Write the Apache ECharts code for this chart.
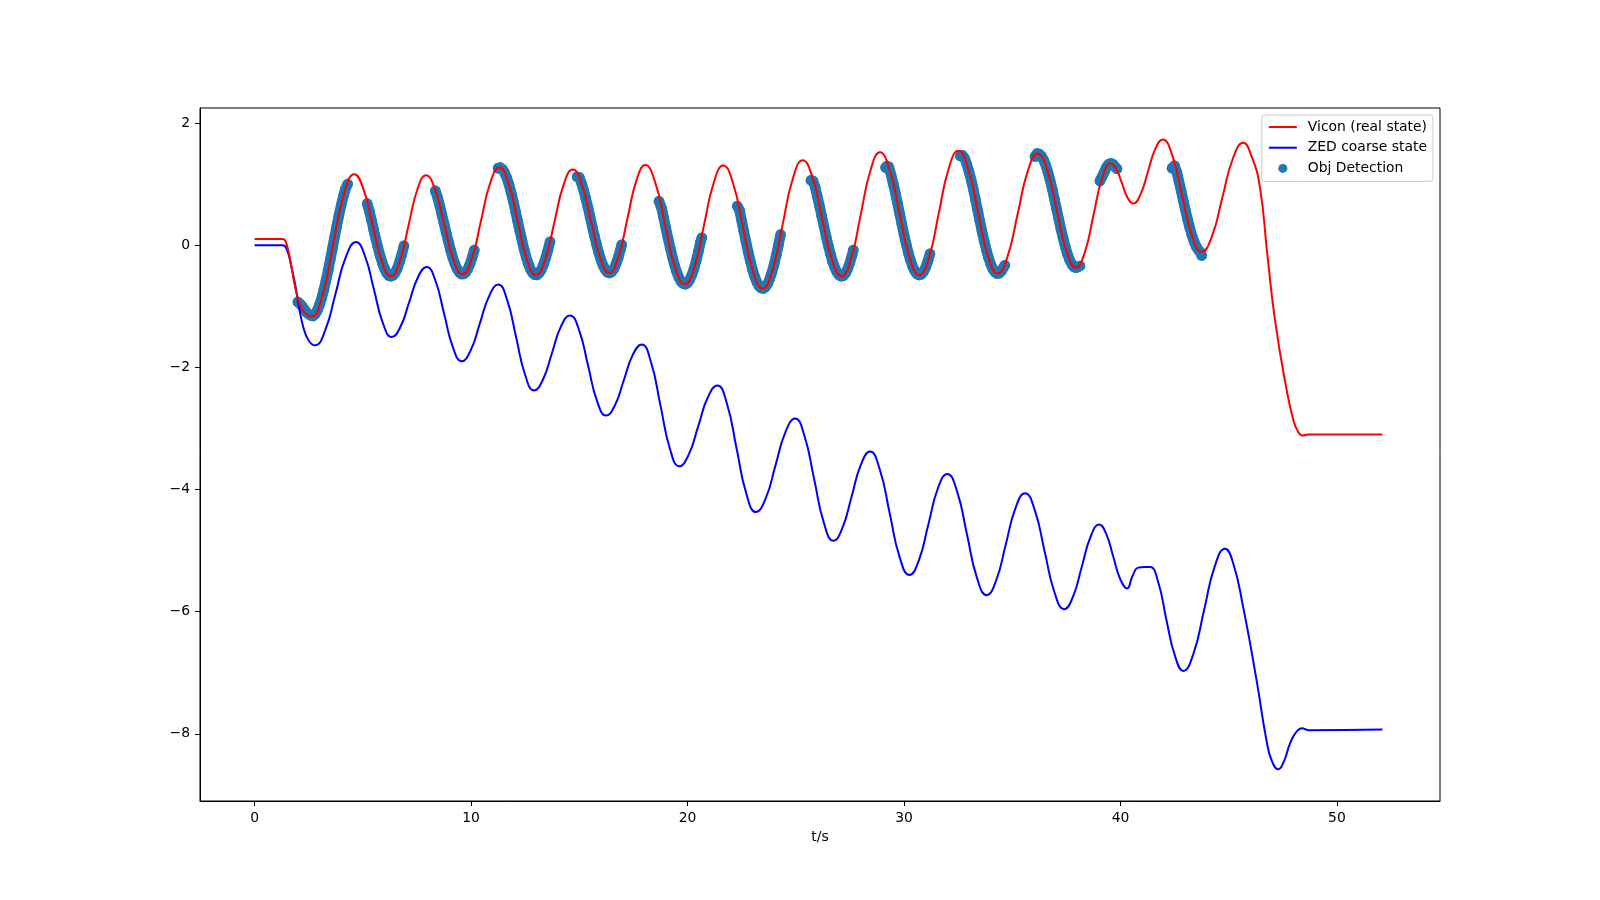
<!DOCTYPE html>
<html>
<head>
<meta charset="utf-8">
<title>Vicon vs ZED</title>
<script src="https://cdn.jsdelivr.net/npm/echarts@6/dist/echarts.min.js"></script>
<style>
  html, body { margin: 0; padding: 0; background: #fff; }
  #chart { width: 1600px; height: 900px; }
</style>
</head>
<body>
<div id="chart"></div>
<script>
// Vicon (real state)
const viconT = [
  0, 1.30, 1.45, 1.65, 1.87, 2.05, 2.30, 2.64, 3.13, 3.625, 4.12, 4.61,
  5.03, 5.455, 5.88, 6.30, 6.705, 7.11, 7.515, 7.92, 8.34, 8.765, 9.19, 9.61,
  10.035, 10.46, 10.885, 11.31, 11.73, 12.155, 12.58, 13.00, 13.425, 13.85, 14.275, 14.70,
  15.12, 15.545, 15.97, 16.39, 16.805, 17.22, 17.635, 18.05, 18.51, 18.965, 19.42, 19.88,
  20.32, 20.765, 21.21, 21.65, 22.105, 22.56, 23.015, 23.47, 23.93, 24.395, 24.86, 25.32,
  25.77, 26.22, 26.67, 27.12, 27.56, 28.005, 28.45, 28.89, 29.345, 29.80, 30.255, 30.71,
  31.16, 31.61, 32.06, 32.51, 32.965, 33.42, 33.875, 34.33, 34.79, 35.255, 35.72, 36.18,
  36.62, 37.065, 37.51, 37.95, 38.35, 38.75, 39.15, 39.55, 39.81, 40.07, 40.33, 40.59,
  40.93, 41.27, 41.61, 41.95, 42.40, 42.85, 43.30, 43.75, 44.23, 44.71, 45.19, 45.67,
  46.06, 46.44, 46.78, 47.14, 47.65, 47.99, 48.20, 48.42, 48.66, 52.10
];
const viconV = [
  0.10, 0.10, 0.05, -0.25, -0.68, -0.92, -1.10, -1.166, -0.825, -0.002, 0.821, 1.162,
  0.917, 0.326, -0.265, -0.51, -0.267, 0.318, 0.903, 1.146, 0.908, 0.335, -0.239, -0.477,
  -0.221, 0.398, 1.016, 1.272, 1.014, 0.391, -0.232, -0.49, -0.237, 0.375, 0.987, 1.24,
  0.992, 0.393, -0.207, -0.455, -0.196, 0.428, 1.051, 1.31, 1.024, 0.335, -0.354, -0.64,
  -0.355, 0.333, 1.02, 1.305, 1.01, 0.298, -0.415, -0.71, -0.402, 0.34, 1.082, 1.39,
  1.112, 0.44, -0.232, -0.51, -0.213, 0.505, 1.223, 1.52, 1.226, 0.515, -0.196, -0.49,
  -0.192, 0.528, 1.247, 1.545, 1.25, 0.54, -0.171, -0.466, -0.178, 0.517, 1.212, 1.50,
  1.226, 0.565, -0.096, -0.37, -0.12, 0.485, 1.09, 1.34, 1.243, 1.01, 0.777, 0.68,
  0.834, 1.205, 1.576, 1.73, 1.46, 0.81, 0.16, -0.11, 0.151, 0.783, 1.414, 1.675,
  1.45, 0.95, -0.14, -1.23, -2.32, -2.87, -3.05, -3.117, -3.10, -3.10
];

// ZED coarse state
const zedT = [
  0, 1.30, 1.50, 1.70, 1.87, 2.05, 2.25, 2.50, 2.79, 3.265, 3.74, 4.215, 4.69,
  5.10, 5.515, 5.93, 6.34, 6.74, 7.145, 7.55, 7.95, 8.355, 8.76, 9.165, 9.57,
  9.99, 10.415, 10.84, 11.26, 11.67, 12.085, 12.50, 12.91, 13.325, 13.74, 14.155, 14.57,
  14.99, 15.405, 15.82, 16.24, 16.65, 17.06, 17.47, 17.88, 18.315, 18.75, 19.185, 19.62,
  20.06, 20.50, 20.94, 21.38, 21.825, 22.27, 22.715, 23.16, 23.61, 24.065, 24.52, 24.97,
  25.41, 25.855, 26.30, 26.74, 27.16, 27.585, 28.01, 28.43, 28.885, 29.34, 29.795, 30.25,
  30.69, 31.125, 31.56, 32.00, 32.455, 32.91, 33.365, 33.82, 34.26, 34.705, 35.15, 35.59,
  36.04, 36.495, 36.95, 37.40, 37.805, 38.21, 38.615, 39.02, 39.34, 39.665, 39.99, 40.31,
  40.55, 40.82, 41.10, 41.36, 41.745, 42.13, 42.515, 42.90, 43.38, 43.865, 44.35, 44.83,
  45.20, 45.67, 46.29, 46.75, 47.00, 47.29, 47.55, 47.82, 48.10, 48.39, 48.67, 52.10
];
const zedV = [
  0, 0, -0.08, -0.35, -0.63, -1.0, -1.34, -1.56, -1.64, -1.392, -0.795, -0.198, 0.05,
  -0.178, -0.728, -1.277, -1.505, -1.337, -0.931, -0.525, -0.357, -0.583, -1.129, -1.674, -1.90,
  -1.716, -1.273, -0.83, -0.646, -0.90, -1.513, -2.126, -2.38, -2.20, -1.765, -1.33, -1.15,
  -1.39, -1.97, -2.55, -2.79, -2.62, -2.208, -1.796, -1.625, -1.917, -2.623, -3.328, -3.62,
  -3.426, -2.959, -2.491, -2.297, -2.601, -3.334, -4.066, -4.37, -4.146, -3.605, -3.064, -2.84,
  -3.133, -3.84, -4.547, -4.84, -4.626, -4.11, -3.594, -3.38, -3.676, -4.39, -5.104, -5.40,
  -5.157, -4.573, -3.988, -3.745, -4.036, -4.738, -5.439, -5.73, -5.485, -4.895, -4.305, -4.06,
  -4.338, -5.01, -5.682, -5.96, -5.757, -5.268, -4.778, -4.575, -4.728, -5.098, -5.467, -5.62,
  -5.42, -5.28, -5.27, -5.27, -5.519, -6.15, -6.721, -6.97, -6.677, -5.97, -5.263, -4.97,
  -5.20, -5.93, -7.13, -8.12, -8.45, -8.58, -8.45, -8.17, -7.98, -7.91, -7.94, -7.93
];

// Obj Detection, one line per detected stretch
const detT = [
  2.0, 2.1, 2.2, 2.3, 2.4, 2.5, 2.6, 2.7, 2.8, 2.9, 3.0, 3.1, 3.2, 3.3, 3.4, 3.5, 3.6, 3.7, 3.8, 3.9, 4.0, 4.1, 4.2, 4.3,
  5.2, 5.3, 5.4, 5.5, 5.6, 5.7, 5.8, 5.9, 6.0, 6.1, 6.2, 6.3, 6.4, 6.5, 6.6, 6.7, 6.8, 6.9,
  8.35, 8.45, 8.55, 8.65, 8.75, 8.85, 8.95, 9.05, 9.15, 9.25, 9.35, 9.45, 9.55, 9.65, 9.75, 9.85, 9.95, 10.05, 10.15,
  11.25, 11.35, 11.45, 11.55, 11.65, 11.75, 11.85, 11.95, 12.05, 12.15, 12.25, 12.35, 12.45, 12.55, 12.65, 12.75, 12.85, 12.95, 13.05, 13.15, 13.25, 13.35, 13.45, 13.55, 13.65,
  14.9, 15.0, 15.1, 15.2, 15.3, 15.4, 15.5, 15.6, 15.7, 15.8, 15.9, 16.0, 16.1, 16.2, 16.3, 16.4, 16.5, 16.6, 16.7, 16.8, 16.9, 16.96,
  18.68, 18.8, 18.9, 19.0, 19.1, 19.2, 19.3, 19.4, 19.5, 19.6, 19.7, 19.8, 19.9, 20.0, 20.1, 20.2, 20.3, 20.4, 20.5, 20.6, 20.66,
  22.3, 22.4, 22.5, 22.6, 22.7, 22.8, 22.9, 23.0, 23.1, 23.2, 23.3, 23.4, 23.5, 23.6, 23.7, 23.8, 23.9, 24.0, 24.1, 24.2, 24.3,
  25.7, 25.8, 25.9, 26.0, 26.1, 26.2, 26.3, 26.4, 26.5, 26.6, 26.7, 26.8, 26.9, 27.0, 27.1, 27.2, 27.3, 27.4, 27.5, 27.6, 27.66,
  29.15, 29.22, 29.3, 29.4, 29.5, 29.6, 29.7, 29.8, 29.9, 30.0, 30.1, 30.2, 30.3, 30.4, 30.5, 30.6, 30.7, 30.8, 30.9, 31.0, 31.1, 31.2,
  32.6, 32.7, 32.8, 32.9, 33.0, 33.1, 33.2, 33.3, 33.4, 33.5, 33.6, 33.7, 33.8, 33.9, 34.0, 34.1, 34.2, 34.3, 34.4, 34.5, 34.6, 34.66,
  36.05, 36.15, 36.25, 36.35, 36.45, 36.55, 36.65, 36.75, 36.85, 36.95, 37.05, 37.15, 37.25, 37.35, 37.45, 37.55, 37.65, 37.75, 37.85, 37.95, 38.05, 38.13,
  39.05, 39.15, 39.25, 39.35, 39.45, 39.55, 39.65, 39.75, 39.84,
  42.38, 42.5, 42.6, 42.7, 42.8, 42.9, 43.0, 43.1, 43.2, 43.3, 43.4, 43.5, 43.6, 43.7, 43.75
];
const detV = [
  -0.93, -0.96, -1.0, -1.05, -1.10, -1.13, -1.15, -1.16, -1.129, -1.067, -0.977, -0.867, -0.732, -0.577, -0.412, -0.231, -0.049, 0.136, 0.319, 0.494, 0.652, 0.80, 0.922, 1.0,
  0.68, 0.563, 0.413, 0.255, 0.104, -0.038, -0.172, -0.29, -0.383, -0.453, -0.496, -0.51, -0.494, -0.449, -0.373, -0.273, -0.152, -0.011,
  0.89, 0.786, 0.653, 0.506, 0.357, 0.208, 0.063, -0.073, -0.198, -0.302, -0.384, -0.441, -0.472, -0.474, -0.448, -0.391, -0.31, -0.204, -0.079,
  1.26, 1.269, 1.242, 1.186, 1.102, 0.994, 0.863, 0.72, 0.561, 0.399, 0.237, 0.081, -0.069, -0.2, -0.309, -0.397, -0.456, -0.486, -0.487, -0.457, -0.399, -0.317, -0.209, -0.082, 0.057,
  1.12, 1.111, 1.017, 0.899, 0.765, 0.619, 0.465, 0.304, 0.152, 0.008, -0.127, -0.242, -0.334, -0.402, -0.443, -0.455, -0.436, -0.386, -0.306, -0.203, -0.077, 0.007,
  0.72, 0.607, 0.445, 0.277, 0.112, -0.046, -0.192, -0.324, -0.439, -0.53, -0.594, -0.63, -0.64, -0.618, -0.567, -0.488, -0.384, -0.254, -0.109, 0.052, 0.12,
  0.64, 0.573, 0.402, 0.228, 0.058, -0.106, -0.259, -0.398, -0.511, -0.603, -0.668, -0.703, -0.709, -0.685, -0.631, -0.55, -0.443, -0.316, -0.163, -0.001, 0.173,
  1.06, 1.05, 0.941, 0.792, 0.638, 0.473, 0.309, 0.146, -0.005, -0.141, -0.268, -0.366, -0.442, -0.489, -0.51, -0.5, -0.458, -0.387, -0.287, -0.165, -0.08,
  1.27, 1.30, 1.279, 1.155, 1.011, 0.856, 0.688, 0.515, 0.342, 0.174, 0.019, -0.125, -0.249, -0.351, -0.425, -0.472, -0.49, -0.478, -0.435, -0.364, -0.265, -0.141,
  1.46, 1.47, 1.422, 1.326, 1.208, 1.07, 0.916, 0.747, 0.575, 0.401, 0.231, 0.073, -0.073, -0.201, -0.308, -0.388, -0.441, -0.465, -0.459, -0.425, -0.364, -0.33,
  1.45, 1.499, 1.492, 1.458, 1.394, 1.306, 1.193, 1.058, 0.915, 0.755, 0.588, 0.425, 0.261, 0.113, -0.023, -0.144, -0.241, -0.312, -0.356, -0.37, -0.354, -0.34,
  1.05, 1.12, 1.195, 1.275, 1.324, 1.34, 1.325, 1.282, 1.25,
  1.26, 1.30, 1.202, 1.047, 0.891, 0.729, 0.574, 0.421, 0.282, 0.16, 0.057, -0.024, -0.079, -0.12, -0.17
];

const xTicks = [0, 10, 20, 30, 40, 50];
const yTicks = [-8, -6, -4, -2, 0, 2];

const zip = (xs, ys) => xs.map((x, i) => [x, ys[i]]);
const FONT = 'DejaVu Sans';
const minus = v => String(v).replace('-', '\u2212');

// the detections are packed so tight they read as a thick band;
// a wide stroke under the markers fills the gaps (broken between runs)
const detBand = [];
detT.forEach((t, i) => {
  if (i > 0 && t - detT[i - 1] > 0.3) detBand.push([t, null]);
  detBand.push([t, detV[i]]);
});

const chart = echarts.init(document.getElementById('chart'), null, { renderer: 'canvas' });

const axisCommon = {
  type: 'value',
  axisLine: { show: true, onZero: false, lineStyle: { color: '#000', width: 1 } },
  axisTick: { show: true, inside: false, length: 5, lineStyle: { color: '#000', width: 1 } },
  splitLine: { show: false },
};

chart.setOption({
  animation: false,
  backgroundColor: '#fff',
  textStyle: { fontFamily: FONT },
  grid: {
    left: 200, right: 160, top: 108, bottom: 99,
    containLabel: false,
    outerBoundsMode: 'none',
    show: true, borderColor: '#000', borderWidth: 1, backgroundColor: 'transparent',
  },
  legend: {
    orient: 'vertical',
    right: 167,
    top: 115,
    padding: [5, 6, 6, 6],
    itemWidth: 28,
    itemHeight: 9,
    itemGap: 6.7,
    backgroundColor: 'rgba(255,255,255,0.8)',
    borderColor: '#cccccc',
    borderWidth: 1,
    borderRadius: 3,
    textStyle: { fontFamily: FONT, fontSize: 13.9, color: '#000', lineHeight: 14, padding: [0, 0, 0, 6] },
    data: [
      { name: 'Vicon (real state)', itemStyle: { opacity: 0 } },
      { name: 'ZED coarse state', itemStyle: { opacity: 0 } },
      { name: 'Obj Detection', icon: 'circle' },
    ],
  },
  xAxis: {
    ...axisCommon,
    min: -2.52,
    max: 54.76,
    name: 't/s',
    nameLocation: 'middle',
    nameGap: 29,
    nameTextStyle: { fontFamily: FONT, fontSize: 13.9, color: '#000' },
    axisTick: { ...axisCommon.axisTick, customValues: xTicks },
    axisLabel: { customValues: xTicks, margin: 10, color: '#000', fontFamily: FONT, fontSize: 13.9, formatter: minus },
  },
  yAxis: {
    ...axisCommon,
    min: -9.1,
    max: 2.245,
    axisTick: { ...axisCommon.axisTick, customValues: yTicks },
    axisLabel: { customValues: yTicks, margin: 10, color: '#000', fontFamily: FONT, fontSize: 13.9, formatter: minus },
  },
  series: [
    {
      name: 'Obj Detection',
      type: 'scatter',
      z: 1,
      symbol: 'circle',
      symbolSize: 10.5,
      itemStyle: { color: '#1f77b4', opacity: 1 },
      data: zip(detT, detV),
    },
    {
      name: 'Obj Detection',
      type: 'line',
      z: 1,
      symbol: 'none',
      connectNulls: false,
      lineStyle: { color: '#1f77b4', width: 10.5, cap: 'round', join: 'round' },
      itemStyle: { color: '#1f77b4' },
      data: detBand,
    },
    {
      name: 'Vicon (real state)',
      type: 'line',
      z: 3,
      symbol: 'none',
      smooth: 0.5,
      lineStyle: { color: '#ff0000', width: 2 },
      itemStyle: { color: '#ff0000' },
      data: zip(viconT, viconV),
    },
    {
      name: 'ZED coarse state',
      type: 'line',
      z: 2,
      symbol: 'none',
      smooth: 0.5,
      lineStyle: { color: '#0000ff', width: 2 },
      itemStyle: { color: '#0000ff' },
      data: zip(zedT, zedV),
    },
  ],
});
</script>
</body>
</html>
